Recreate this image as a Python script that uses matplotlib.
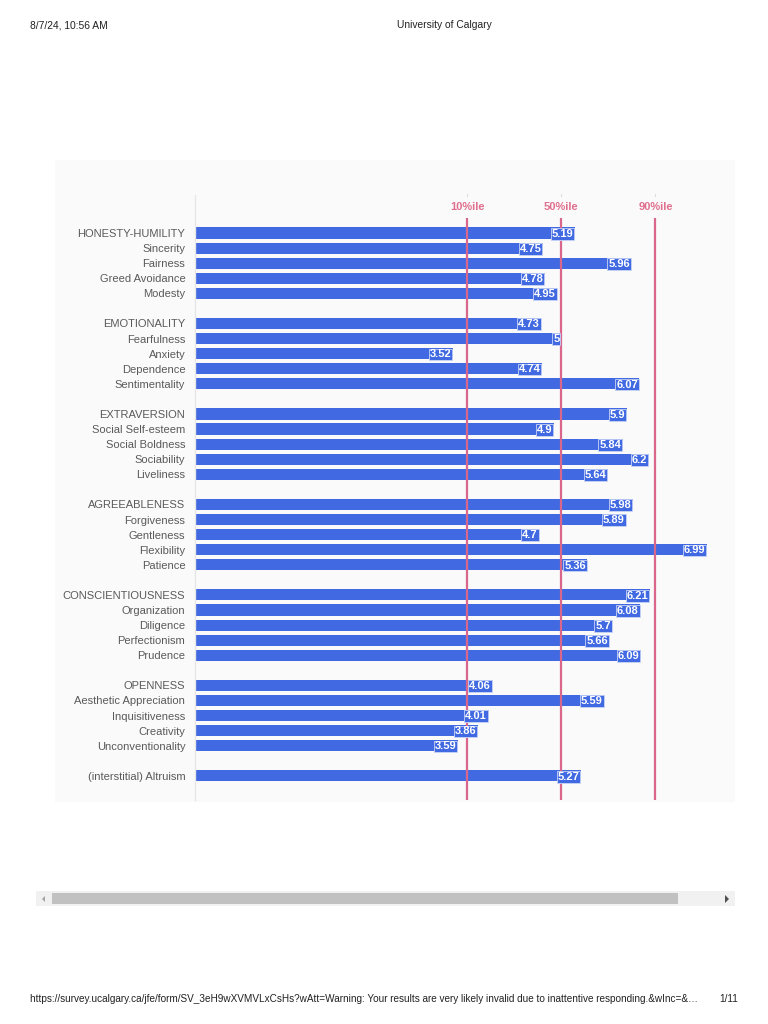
import matplotlib
matplotlib.use("Agg")
import matplotlib.pyplot as plt
from matplotlib.patches import Rectangle, Polygon

plt.rcParams['font.family'] = ['Liberation Sans', 'DejaVu Sans']

groups = ["HONESTY-HUMILITY", "EMOTIONALITY", "EXTRAVERSION", "AGREEABLENESS",
          "CONSCIENTIOUSNESS", "OPENNESS"]
facets = [
    ["Sincerity", "Fairness", "Greed Avoidance", "Modesty"],
    ["Fearfulness", "Anxiety", "Dependence", "Sentimentality"],
    ["Social Self-esteem", "Social Boldness", "Sociability", "Liveliness"],
    ["Forgiveness", "Gentleness", "Flexibility", "Patience"],
    ["Organization", "Diligence", "Perfectionism", "Prudence"],
    ["Aesthetic Appreciation", "Inquisitiveness", "Creativity", "Unconventionality"],
]
group_scores = [5.19, 4.73, 5.9, 5.98, 6.21, 4.06]
facet_scores = [
    [4.75, 5.96, 4.78, 4.95],
    [5, 3.52, 4.74, 6.07],
    [4.9, 5.84, 6.2, 5.64],
    [5.89, 4.7, 6.99, 5.36],
    [6.08, 5.7, 5.66, 6.09],
    [5.59, 4.01, 3.86, 3.59],
]
extra_label = "(interstitial) Altruism"
extra_score = 5.27
pct_labels = ["10%ile", "50%ile", "90%ile"]
pct_values = [3.72, 5.0, 6.29]

# build rows
labels, values, positions = [], [], []
pos = 0
for g, gs, fl, fs in zip(groups, group_scores, facets, facet_scores):
    labels.append(g); values.append(gs); positions.append(pos); pos += 1
    for f, s in zip(fl, fs):
        labels.append(f); values.append(s); positions.append(pos); pos += 1
    pos += 1
labels.append(extra_label); values.append(extra_score); positions.append(pos)

W, H = 768, 1024
fig = plt.figure(figsize=(W / 100, H / 100), dpi=100)

def fx(px): return px / W
def fy(py): return 1 - py / H

# panel background
fig.patches.append(Rectangle((fx(55), fy(802)), fx(735) - fx(55), fy(160) - fy(802),
                             transform=fig.transFigure, facecolor='#fafafa',
                             edgecolor='none', zorder=-5))

ax_left, ax_right = 195, 735
ax_top, ax_bot = 195, 800
ax = fig.add_axes([fx(ax_left), fy(ax_bot), fx(ax_right) - fx(ax_left), fy(ax_top) - fy(ax_bot)])
ax.set_zorder(2)
ax.patch.set_alpha(0)

scale = 73.25
xmax = (ax_right - 194.7) / scale
ax.set_xlim(0, xmax)
row_px = 15.08
first_px = 233
ax.set_ylim((ax_bot - first_px) / row_px, (ax_top - first_px) / row_px)

blue = '#4169e1'
pink = '#d9678c'
ax.barh(positions, values, height=0.74, color=blue, zorder=2)

for p, v in zip(positions, values):
    ax.text(v - 0.02, p + 0.05, f"{v:g}", ha='right', va='center', color='white',
            fontsize=8, fontweight='bold', zorder=4,
            bbox=dict(boxstyle='square,pad=0.08', facecolor=blue,
                      edgecolor='#c9d5f7', linewidth=0.6))

y_bot = (ax_bot - first_px) / row_px
for pv, pl in zip(pct_values, pct_labels):
    ax.plot([pv, pv], [y_bot, (218 - first_px) / row_px],
            color=pink, linewidth=1.6, zorder=3, solid_capstyle='butt')
    ax.text(pv, (207 - first_px) / row_px, pl, ha='center', va='center',
            color='#e0708f', fontsize=8, fontweight='bold', zorder=4)
    ax.plot([pv, pv], [(194 - first_px) / row_px, (196 - first_px) / row_px],
            color='#dddddd', linewidth=0.8, clip_on=False)

ax.set_yticks(positions)
ax.set_yticklabels(labels, fontsize=8, color='#5a5a5a')
ax.tick_params(axis='y', length=0, pad=7)
ax.set_xticks([])
for s in ['top', 'right', 'bottom']:
    ax.spines[s].set_visible(False)
ax.spines['left'].set_color('#e6e6e6')
ax.spines['left'].set_linewidth(1)

# header / footer
fig.text(fx(30), fy(25), "8/7/24, 10:56 AM", fontsize=7.4, color='#222222', va='center', ha='left')
fig.text(fx(444), fy(25), "University of Calgary", fontsize=7.4, color='#222222', va='center', ha='center')
fig.text(fx(30), fy(999), "https://survey.ucalgary.ca/jfe/form/SV_3eH9wXVMVLxCsHs?wAtt=Warning: Your results are very likely invalid due to inattentive responding.&wInc=&\u2026",
         fontsize=7.2, color='#222222', va='center', ha='left')
fig.text(fx(738), fy(999), "1/11", fontsize=7.2, color='#222222', va='center', ha='right')

# scrollbar
fig.patches.append(Rectangle((fx(36), fy(906)), fx(735) - fx(36), fy(891) - fy(906),
                             transform=fig.transFigure, facecolor='#f1f1f1', edgecolor='none'))
fig.patches.append(Rectangle((fx(52), fy(904)), fx(678) - fx(52), fy(893) - fy(904),
                             transform=fig.transFigure, facecolor='#c1c1c1', edgecolor='none'))
fig.patches.append(Polygon([(fx(45), fy(896)), (fx(45), fy(902)), (fx(42), fy(899))],
                           closed=True, transform=fig.transFigure, facecolor='#a3a3a3', edgecolor='none'))
fig.patches.append(Polygon([(fx(725), fy(895)), (fx(725), fy(903)), (fx(729), fy(899))],
                           closed=True, transform=fig.transFigure, facecolor='#505050', edgecolor='none'))

fig.savefig("out.png", dpi=100, facecolor='white')
